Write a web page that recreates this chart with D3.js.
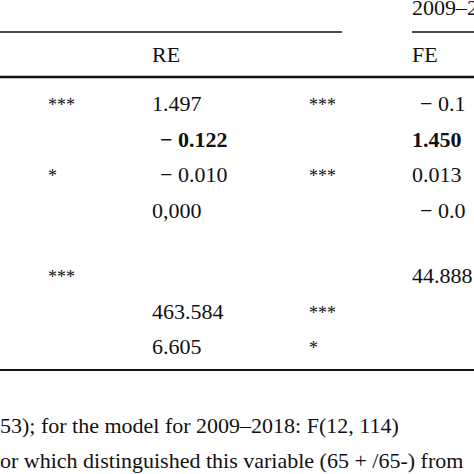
<!DOCTYPE html>
<html><head><meta charset="utf-8">
<script src="https://cdn.jsdelivr.net/npm/d3@7"></script>
<style>body{margin:0;background:#fff}svg{display:block}text{font-family:"Liberation Serif","Times New Roman",serif;font-size:22px;fill:#111}</style>
</head><body><div id="chart"></div>
<script>
// table cells, row index -> value
var rowIdx   = [0, 1, 2, 3, 4.85, 5.85, 6.85];
var stars1   = ["***", "", "*", "", "***", "", ""];
var reVals   = ["1.497", "\u2212 0.122", "\u2212 0.010", "0,000", "", "463.584", "6.605"];
var reBold   = [false, true, false, false, false, false, false];
var stars2   = ["***", "", "***", "", "", "***", "*"];
var feVals   = ["\u2212 0.1", "1.450", "0.013", "\u2212 0.0", "44.888", "", ""];
var feBold   = [false, true, false, false, false, false, false];
var notes    = ["53); for the model for 2009\u20132018: F(12, 114)",
                "or which distinguished this variable (65 + /65-) from"];

var W = 474, H = 474;
var svg = d3.select("#chart").append("svg").attr("width", W).attr("height", H);

var y = d3.scaleLinear().domain([0, 1]).range([111, 146.5]);
var col = {s1: 48, re: 152, s2: 309, fe: 412};

// rules
svg.append("line").attr("x1", 0).attr("x2", 342).attr("y1", 32).attr("y2", 32).attr("stroke", "#111").attr("stroke-width", 1.5);
svg.append("line").attr("x1", 412).attr("x2", W).attr("y1", 32).attr("y2", 32).attr("stroke", "#111").attr("stroke-width", 1.5);
svg.append("line").attr("x1", 0).attr("x2", W).attr("y1", 77).attr("y2", 77).attr("stroke", "#111").attr("stroke-width", 2.5);
svg.append("line").attr("x1", 0).attr("x2", W).attr("y1", 370).attr("y2", 370).attr("stroke", "#111").attr("stroke-width", 2);

// headers
svg.append("text").attr("x", 412).attr("y", 15).text("2009\u20132018");
svg.append("text").attr("x", col.re).attr("y", 62).text("RE");
svg.append("text").attr("x", col.fe).attr("y", 62).text("FE");

function column(vals, x, bold, isStar) {
    svg.selectAll(null).data(vals).enter().append("text")
        .attr("x", function(d){ return d.charAt(0) === "\u2212" ? x + 8 : x; })
        .attr("y", function(d, i){ return y(rowIdx[i]) - (isStar ? 0 : 0); })
        .attr("font-weight", function(d, i){ return bold && bold[i] ? "bold" : null; })
        .style("font-size", isStar ? "18px" : null)
        .text(function(d){ return d; });
}
column(stars1, col.s1, null, true);
column(reVals, col.re, reBold, false);
column(stars2, col.s2, null, true);
column(feVals, col.fe, feBold, false);

svg.selectAll("text.note").data(notes).enter().append("text").attr("class", "note")
    .attr("x", 0).attr("y", function(d, i){ return 433 + i * 35; })
    .text(function(d){ return d; });
</script></body></html>
